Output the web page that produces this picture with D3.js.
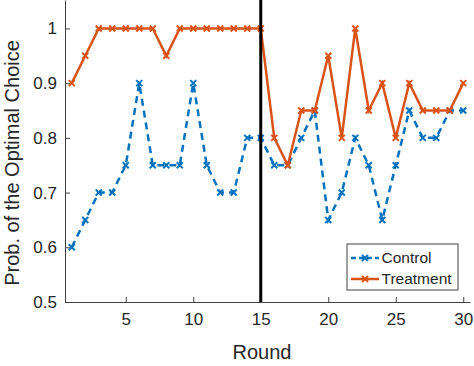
<!DOCTYPE html>
<html lang="en">
<head>
  <meta charset="UTF-8">
  <title>Prob. of the Optimal Choice</title>
  <script src="https://cdn.jsdelivr.net/npm/d3@7"></script>
  <style>
    body { margin: 0; background: #fff; }
    text { font-family: Arial, "Liberation Sans", sans-serif; fill: #262626; }
  </style>
</head>
<body>
  <div id="box"></div>
  <script>
    // data
    const rounds = d3.range(1, 31)
    const control = [0.6, 0.65, 0.7, 0.7, 0.75, 0.9, 0.75, 0.75, 0.75, 0.9,
      0.75, 0.7, 0.7, 0.8, 0.8, 0.75, 0.75, 0.8, 0.85, 0.65,
      0.7, 0.8, 0.75, 0.65, 0.75, 0.85, 0.8, 0.8, 0.85, 0.85]
    const treatment = [0.9, 0.95, 1, 1, 1, 1, 1, 0.95, 1, 1,
      1, 1, 1, 1, 1, 0.8, 0.75, 0.85, 0.85, 0.95,
      0.8, 1, 0.85, 0.9, 0.8, 0.9, 0.85, 0.85, 0.85, 0.9]
    const xTicks = [5, 10, 15, 20, 25, 30]
    const yTicks = [0.5, 0.6, 0.7, 0.8, 0.9, 1]
    const switchRound = 15

    const width = 474
    const height = 366
    const margin = { left: 65, right: 4, top: 0, bottom: 64 }

    const svg = d3.select('#box').append('svg')
      .attr('width', width)
      .attr('height', height)

    const xScale = d3.scaleLinear().domain([0.5, 30.5]).range([margin.left, width - margin.right])
    const yScale = d3.scaleLinear().domain([0.5, 1.052]).range([height - margin.bottom, margin.top])

    // axes (ticks point inward, matlab style)
    const xAxis = d3.axisBottom(xScale).tickValues(xTicks).tickSizeInner(-5).tickSizeOuter(0).tickPadding(9)
    svg.append('g')
      .attr('transform', `translate(0,${height - margin.bottom})`)
      .call(xAxis)
      .call(g => g.selectAll('text').attr('font-size', 17).attr('dy', '0.85em'))

    const yAxis = d3.axisLeft(yScale).tickValues(yTicks).tickFormat(d => d === 1 ? '1' : d3.format('.1f')(d))
      .tickSizeInner(-5).tickSizeOuter(0).tickPadding(8)
    svg.append('g')
      .attr('transform', `translate(${margin.left},0)`)
      .call(yAxis)
      .call(g => g.selectAll('text').attr('font-size', 17))

    svg.selectAll('.domain, .tick line').attr('stroke', '#404040')

    // labels
    svg.append('text')
      .attr('x', 262).attr('y', 359)
      .attr('text-anchor', 'middle').attr('font-size', 20)
      .text('Round')
    svg.append('text')
      .attr('transform', `translate(19,163) rotate(-90)`)
      .attr('text-anchor', 'middle').attr('font-size', 20)
      .text('Prob. of the Optimal Choice')

    // series
    const series = [
      { name: 'Control', values: control, color: '#0072BD', dash: '7,5' },
      { name: 'Treatment', values: treatment, color: '#D95319', dash: null }
    ]
    const line = d3.line().x((d, i) => xScale(rounds[i])).y(d => yScale(d))

    function cross(g, x, y, color) {
      const s = 3
      g.append('path')
        .attr('d', `M${x - s},${y - s}L${x + s},${y + s}M${x - s},${y + s}L${x + s},${y - s}`)
        .attr('stroke', color).attr('stroke-width', 2).attr('fill', 'none')
    }

    series.forEach(s => {
      const g = svg.append('g')
      g.append('path')
        .datum(s.values)
        .attr('d', line)
        .attr('fill', 'none')
        .attr('stroke', s.color)
        .attr('stroke-width', 2.5)
        .attr('stroke-dasharray', s.dash)
      s.values.forEach((v, i) => cross(g, xScale(rounds[i]), yScale(v), s.color))
    })

    // vertical line at switch round
    svg.append('line')
      .attr('x1', xScale(switchRound)).attr('x2', xScale(switchRound))
      .attr('y1', yScale(0.5)).attr('y2', 0)
      .attr('stroke', '#000').attr('stroke-width', 3)

    // legend
    const lg = svg.append('g').attr('transform', 'translate(347,244)')
    lg.append('rect').attr('width', 111).attr('height', 46)
      .attr('fill', '#fff').attr('stroke', '#404040').attr('stroke-width', 1)
    series.forEach((s, i) => {
      const y = 14 + i * 21
      lg.append('line').attr('x1', 4).attr('x2', 32).attr('y1', y).attr('y2', y)
        .attr('stroke', s.color).attr('stroke-width', 2.5).attr('stroke-dasharray', s.dash ? '5,3' : null)
      cross(lg, 18, y, s.color)
      lg.append('text').attr('x', 34.5).attr('y', y).attr('dy', '0.35em')
        .attr('font-size', 15.5).text(s.name)
    })
  </script>
</body>
</html>
